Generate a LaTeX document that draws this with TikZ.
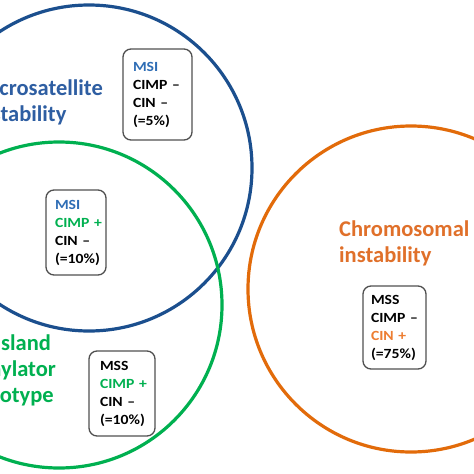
\documentclass[tikz,border=0pt]{standalone}
\usepackage{fontspec}
\setmainfont{Carlito}
\newfontfamily\boxfont[FakeStretch=1.12]{Carlito}
\definecolor{blueC}{HTML}{1B4F8E}
\definecolor{blueT}{HTML}{2E5EA2}
\definecolor{msiblue}{HTML}{2E6DB5}
\definecolor{greenC}{HTML}{00B050}
\definecolor{greenT}{HTML}{00B050}
\definecolor{orangeC}{HTML}{E26B0A}
\definecolor{orangeT}{HTML}{E0702A}
\definecolor{cinorange}{HTML}{ED7D31}
\definecolor{boxgray}{HTML}{505050}
\tikzset{
  ring/.style={line width=3.2pt},
  biglabel/.style={font=\bfseries\fontsize{22.5}{26}\selectfont, inner sep=0pt, align=left, anchor=north west},
  infobox/.style={draw=boxgray, line width=1.3pt, rounded corners=8pt, fill=white,
     inner xsep=0pt, inner ysep=0pt, align=left,
     font=\boxfont\bfseries\fontsize{14}{18}\selectfont}
}
\newcommand{\bl}[1]{\mbox{#1}}
\begin{document}
\begin{tikzpicture}[x=1pt,y=-1pt]
\useasboundingbox (0,0) rectangle (474,474);
\clip (0,0) rectangle (474,474);
\fill[white] (0,0) rectangle (474,474);
% circles
\draw[ring, blueC] (89,168) circle[radius=163pt];
\draw[ring, greenC] (59,305) circle[radius=163pt];
\draw[ring, orangeC] (411,289) circle[radius=163pt];
% labels
\node[biglabel, text=blueT] (msilabel) at (-26,80) {Microsatellite\\instability};
\node[biglabel, text=greenT] (cimplabel) at (-48,335) {CpG island\\methylator\\phenotype};
\node[biglabel, text=orangeT] (cinlabel) at (339,221) {Chromosomal\\instability};
% boxes
\node[infobox, minimum width=69pt, minimum height=91pt, text width=49pt] (b1) at (157.5,94.5)
  {\bl{\textcolor{msiblue}{MSI}}\\\bl{CIMP –}\\\bl{CIN –}\\\bl{(=5\%)}};
\node[infobox, minimum width=60pt, minimum height=85pt, text width=42pt] (b2) at (76,232.5)
  {\bl{\textcolor{msiblue}{MSI}}\\\bl{\textcolor{greenC}{CIMP +}}\\\bl{CIN –}\\\bl{(=10\%)}};
\node[infobox, minimum width=66pt, minimum height=85pt, text width=44pt] (b3) at (122,393.5)
  {\bl{MSS}\\\bl{\textcolor{greenC}{CIMP +}}\\\bl{CIN –}\\\bl{(=10\%)}};
\node[infobox, minimum width=63pt, minimum height=83pt, text width=47pt] (b4) at (394.5,327.5)
  {\bl{MSS}\\\bl{CIMP –}\\\bl{\textcolor{cinorange}{CIN +}}\\\bl{(=75\%)}};
\end{tikzpicture}
\end{document}
